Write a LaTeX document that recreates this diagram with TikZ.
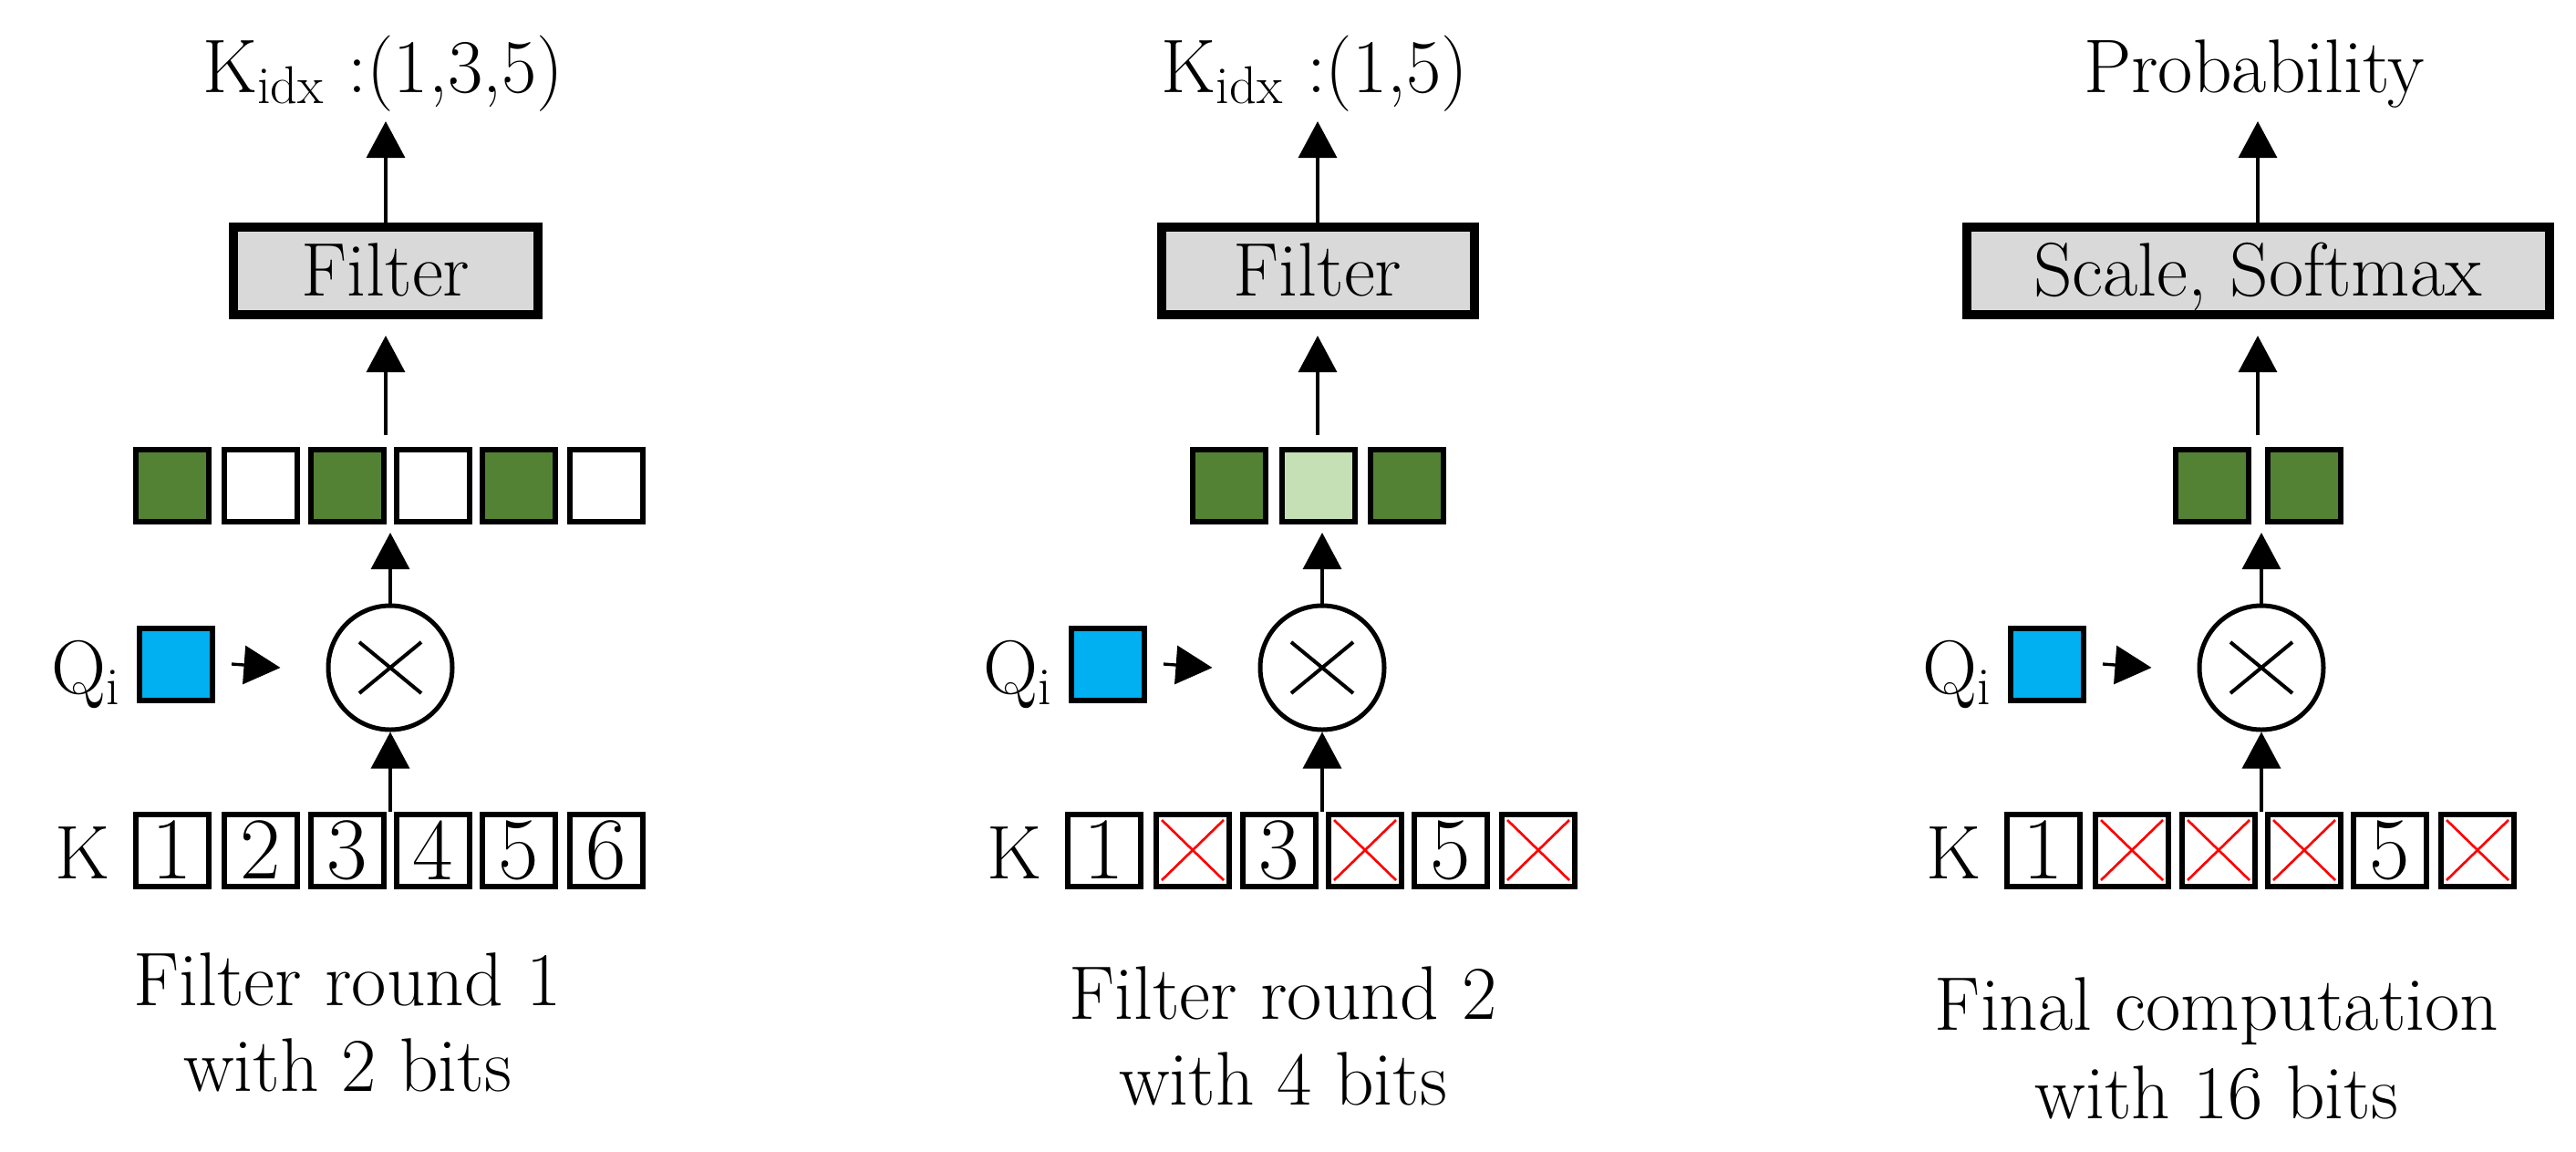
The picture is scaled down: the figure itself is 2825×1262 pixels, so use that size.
\documentclass[tikz,border=0pt]{standalone}
\usetikzlibrary{arrows.meta}
\definecolor{dg}{HTML}{548235}
\definecolor{lg}{HTML}{C5E0B4}
\definecolor{qb}{HTML}{00B0F0}
\definecolor{bx}{HTML}{D9D9D9}
\begin{document}
\begin{tikzpicture}[x=0.3pt,y=-0.3pt,
  every node/.style={font=\fontsize{25}{30}\selectfont},
  cell/.style={draw,line width=1.8pt,minimum width=24pt,minimum height=23.7pt,inner sep=0pt,font=\fontsize{29}{34}\selectfont},
  gcell/.style={cell,fill=dg},
  lcell/.style={cell,fill=lg},
  qcell/.style={cell,fill=qb},
  box/.style={draw,line width=3pt,fill=bx,minimum height=28.8pt,inner sep=0pt},
  mul/.style={draw,circle,line width=1.5pt,minimum size=40.8pt,inner sep=0pt},
  arr/.style={line width=1pt,-{Triangle[length=12pt,width=12.6pt]}},
  lbl/.style={anchor=base,inner sep=0pt},
  xx/.style={red,line width=0.8pt}]
\useasboundingbox (0,0) rectangle (2825,1262);
\newcommand\crossout[1]{\draw[xx] ([shift={(-34,-33)}]#1.center) -- ([shift={(34,33)}]#1.center);
  \draw[xx] ([shift={(-34,33)}]#1.center) -- ([shift={(34,-33)}]#1.center);}
% ---------- panel 1
\begin{scope}
\node[lbl] (aK) at (90,963) {K};
\node[lbl] (aQ) at (95,760) {Q\textsubscript{i}};
\node[cell] (ak1) at (189,932) {1};
\node[cell] (ak2) at (286,932) {2};
\node[cell] (ak3) at (381,932) {3};
\node[cell] (ak4) at (475,932) {4};
\node[cell] (ak5) at (569,932) {5};
\node[cell] (ak6) at (665,932) {6};
\node[qcell] (aq) at (193,728) {};
\node[mul] (am) at (428,732) {};
\draw[line width=1.2pt] ([shift={(-34,-28)}]am.center) -- ([shift={(34,28)}]am.center)
  ([shift={(-34,28)}]am.center) -- ([shift={(34,-28)}]am.center);
\node[gcell] (ag1) at (189,532) {};
\node[cell] (ag2) at (286,532) {};
\node[gcell] (ag3) at (381,532) {};
\node[cell] (ag4) at (475,532) {};
\node[gcell] (ag5) at (569,532) {};
\node[cell] (ag6) at (665,532) {};
\node[box,minimum width=100.2pt] (af) at (423,297) {};
\node[lbl] (aft) at (423,324) {Filter};
\node[lbl] (ao) at (420,101) {K\textsubscript{idx} :(1,3,5)};
\node[lbl] (ac1) at (381,1102) {Filter round 1};
\node[lbl] (ac2) at (381,1196) {with 2 bits};
\coordinate (aa1) at (423,477); \coordinate (aa2) at (423,368);
\coordinate (aa3) at (423,133);
\draw[arr] (aq.east) ++(18,0) coordinate (aqs) -- ([xshift=-15]am.west);
\draw[arr] (am.center |- ak4.north) -- (am.south);
\draw[arr] (am.north) -- (am.center |- 0,584);
\draw[arr] (aa1) -- (aa2);
\draw[arr] (af.north) -- (aa3);
\end{scope}
% ---------- panel 2
\begin{scope}[xshift=306.6pt]
\node[lbl] (bK) at (90,963) {K};
\node[lbl] (bQ) at (95,760) {Q\textsubscript{i}};
\node[cell] (bk1) at (189,932) {1};
\node[cell] (bk2) at (286,932) {};
\node[cell] (bk3) at (381,932) {3};
\node[cell] (bk4) at (475,932) {};
\node[cell] (bk5) at (569,932) {5};
\node[cell] (bk6) at (665,932) {};
\crossout{bk2}\crossout{bk4}\crossout{bk6}
\node[qcell] (bq) at (193,728) {};
\node[mul] (bm) at (428,732) {};
\draw[line width=1.2pt] ([shift={(-34,-28)}]bm.center) -- ([shift={(34,28)}]bm.center)
  ([shift={(-34,28)}]bm.center) -- ([shift={(34,-28)}]bm.center);
\node[gcell] (bg1) at (326,532) {};
\node[lcell] (bg2) at (424,532) {};
\node[gcell] (bg3) at (521,532) {};
\node[box,minimum width=102.9pt] (bf) at (423,297) {};
\node[lbl] (bft) at (423,324) {Filter};
\node[lbl] (bo) at (420,101) {K\textsubscript{idx} :(1,5)};
\node[lbl] (bc1) at (385,1117) {Filter round 2};
\node[lbl] (bc2) at (385,1211) {with 4 bits};
\coordinate (ba1) at (423,477); \coordinate (ba2) at (423,368);
\coordinate (ba3) at (423,133);
\draw[arr] (bq.east) ++(18,0) coordinate (bqs) -- ([xshift=-15]bm.west);
\draw[arr] (bm.center |- bk4.north) -- (bm.south);
\draw[arr] (bm.north) -- (bm.center |- 0,584);
\draw[arr] (ba1) -- (ba2);
\draw[arr] (bf.north) -- (ba3);
\end{scope}
% ---------- panel 3
\begin{scope}[xshift=615.6pt]
\node[lbl] (cK) at (90,963) {K};
\node[lbl] (cQ) at (95,760) {Q\textsubscript{i}};
\node[cell] (ck1) at (189,932) {1};
\node[cell] (ck2) at (286,932) {};
\node[cell] (ck3) at (381,932) {};
\node[cell] (ck4) at (475,932) {};
\node[cell] (ck5) at (569,932) {5};
\node[cell] (ck6) at (665,932) {};
\crossout{ck2}\crossout{ck3}\crossout{ck4}\crossout{ck6}
\node[qcell] (cq) at (193,728) {};
\node[mul] (cm) at (428,732) {};
\draw[line width=1.2pt] ([shift={(-34,-28)}]cm.center) -- ([shift={(34,28)}]cm.center)
  ([shift={(-34,28)}]cm.center) -- ([shift={(34,-28)}]cm.center);
\node[gcell] (cg1) at (374,532) {};
\node[gcell] (cg2) at (475,532) {};
\node[box,minimum width=191.7pt] (cf) at (424,297) {};
\node[lbl] (cft) at (424,324) {Scale, Softmax};
\node[lbl] (co) at (420,101) {Probability};
\node[lbl] (cc1) at (379,1129) {Final computation};
\node[lbl] (cc2) at (379,1226) {with 16 bits};
\coordinate (ca1) at (424,477); \coordinate (ca2) at (424,368);
\coordinate (ca3) at (424,133);
\draw[arr] (cq.east) ++(18,0) coordinate (cqs) -- ([xshift=-15]cm.west);
\draw[arr] (cm.center |- ck4.north) -- (cm.south);
\draw[arr] (cm.north) -- (cm.center |- 0,584);
\draw[arr] (ca1) -- (ca2);
\draw[arr] (cf.north) -- (ca3);
\end{scope}
\end{tikzpicture}
\end{document}
